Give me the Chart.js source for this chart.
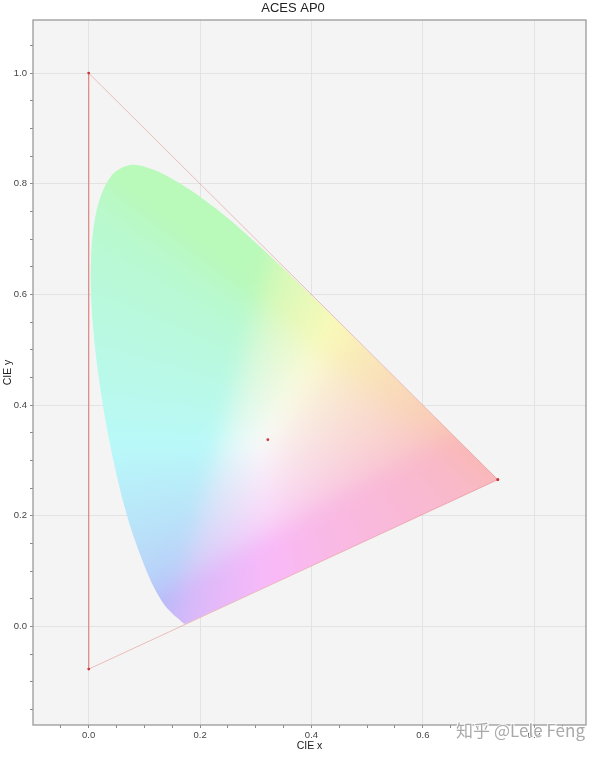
<!DOCTYPE html>
<html>
<head>
<meta charset="utf-8">
<script src="https://cdn.jsdelivr.net/npm/chart.js@4/dist/chart.umd.min.js"></script>
<style>
  html, body { margin: 0; padding: 0; background: #ffffff; }
  #wrap { width: 600px; height: 757px; }
</style>
</head>
<body>
<div id="wrap"><canvas id="cie"></canvas></div>
<script>
// spectral locus, CIE 1931 2 deg, 380..700 nm
var locusX = [0.1741, 0.1740, 0.1738, 0.1736, 0.1733, 0.1730, 0.1726, 0.1721, 0.1714, 0.1703,
  0.1689, 0.1669, 0.1644, 0.1611, 0.1566, 0.1510, 0.1440, 0.1355, 0.1241, 0.1096,
  0.0913, 0.0687, 0.0454, 0.0235, 0.0082, 0.0039, 0.0139, 0.0389, 0.0743, 0.1142,
  0.1547, 0.1929, 0.2296, 0.2658, 0.3016, 0.3373, 0.3731, 0.4087, 0.4441, 0.4788,
  0.5125, 0.5448, 0.5752, 0.6029, 0.6270, 0.6482, 0.6658, 0.6801, 0.6915, 0.7006,
  0.7079, 0.7140, 0.7190, 0.7230, 0.7260, 0.7300, 0.7320, 0.7334, 0.7347];
var locusY = [0.0050, 0.0050, 0.0049, 0.0049, 0.0048, 0.0048, 0.0048, 0.0048, 0.0051, 0.0058,
  0.0069, 0.0086, 0.0109, 0.0138, 0.0177, 0.0227, 0.0297, 0.0399, 0.0578, 0.0868,
  0.1327, 0.2007, 0.2950, 0.4127, 0.5384, 0.6548, 0.7502, 0.8120, 0.8338, 0.8262,
  0.8059, 0.7816, 0.7543, 0.7243, 0.6923, 0.6589, 0.6245, 0.5896, 0.5547, 0.5202,
  0.4866, 0.4544, 0.4242, 0.3965, 0.3725, 0.3514, 0.3340, 0.3197, 0.3083, 0.2993,
  0.2920, 0.2859, 0.2809, 0.2770, 0.2740, 0.2700, 0.2680, 0.2666, 0.2653];

// ACES AP0 primaries (R, G, B, back to R) and white point
var ap0X = [0.7347, 0.0000, 0.0001, 0.7347];
var ap0Y = [0.2653, 1.0000, -0.0770, 0.2653];
var whiteX = [0.32168];
var whiteY = [0.33767];

var xTickValues = [-0.05, 0, 0.05, 0.1, 0.15, 0.2, 0.25, 0.3, 0.35, 0.4, 0.45, 0.5, 0.55, 0.6, 0.65, 0.7, 0.75, 0.8, 0.85];
var yTickValues = [-0.15, -0.1, -0.05, 0, 0.05, 0.1, 0.15, 0.2, 0.25, 0.3, 0.35, 0.4, 0.45, 0.5, 0.55, 0.6, 0.65, 0.7, 0.75, 0.8, 0.85, 0.9, 0.95, 1.0, 1.05];
var xMajor = [0, 0.2, 0.4, 0.6, 0.8];
var yMajor = [0, 0.2, 0.4, 0.6, 0.8, 1.0];

function toPoints(xs, ys) {
  return xs.map(function (x, i) { return {x: x, y: ys[i]}; });
}

function isMajor(list, v) {
  return list.some(function (m) { return Math.abs(m - v) < 1e-6; });
}

// chromaticity -> pastel sRGB colour
function chromaColour(cx, cy) {
  var y = Math.max(cy, 1e-4);
  var X = cx / y, Y = 1, Z = (1 - cx - cy) / y;
  var rgb = [
    3.2406 * X - 1.5372 * Y - 0.4986 * Z,
    -0.9689 * X + 1.8758 * Y + 0.0415 * Z,
    0.0557 * X - 0.2040 * Y + 1.0570 * Z
  ].map(function (c) { return Math.max(c, 0); });
  var m = Math.max(rgb[0], rgb[1], rgb[2]) || 1;
  return rgb.map(function (c) {
    c = c / m;
    c = c <= 0.0031308 ? 12.92 * c : 1.055 * Math.pow(c, 1 / 2.4) - 0.055;
    return Math.round(247 + (c * 255 - 247) * 0.25);
  });
}

var fillCache = null;
function chromaFill(context) {
  var chart = context.chart;
  var area = chart.chartArea;
  if (!area) return 'rgba(0,0,0,0)';
  var key = [area.left, area.top, area.right, area.bottom].join(',');
  if (fillCache && fillCache.key === key) return fillCache.pattern;
  var w = chart.width, h = chart.height;
  var raw = document.createElement('canvas');
  raw.width = w; raw.height = h;
  var rctx = raw.getContext('2d');
  var img = rctx.createImageData(w, h);
  var sx = chart.scales.x, sy = chart.scales.y;
  for (var py = 0; py < h; py++) {
    var vy = sy.getValueForPixel(py + 0.5);
    for (var px = 0; px < w; px++) {
      var vx = sx.getValueForPixel(px + 0.5);
      var c = chromaColour(vx, vy);
      var i = (py * w + px) * 4;
      img.data[i] = c[0]; img.data[i + 1] = c[1]; img.data[i + 2] = c[2]; img.data[i + 3] = 255;
    }
  }
  rctx.putImageData(img, 0, 0);
  // soften the clipping kinks
  var off = document.createElement('canvas');
  off.width = w; off.height = h;
  var octx = off.getContext('2d');
  octx.filter = 'blur(9px)';
  octx.drawImage(raw, 0, 0);
  fillCache = {key: key, pattern: chart.ctx.createPattern(off, 'no-repeat')};
  return fillCache.pattern;
}

var plotFrame = {
  id: 'plotFrame',
  beforeDraw: function (chart) {
    var a = chart.chartArea, ctx = chart.ctx;
    ctx.save();
    ctx.fillStyle = '#f4f4f4';
    ctx.fillRect(a.left, a.top, a.right - a.left, a.bottom - a.top);
    ctx.restore();
  },
  afterDraw: function (chart) {
    var a = chart.chartArea, ctx = chart.ctx;
    ctx.save();
    ctx.strokeStyle = '#9a9a9a';
    ctx.lineWidth = 1.3;
    ctx.strokeRect(a.left, a.top, a.right - a.left, a.bottom - a.top);
    // watermark
    ctx.font = '17px "Noto Sans CJK SC", "Liberation Sans", sans-serif';
    ctx.textAlign = 'right';
    ctx.textBaseline = 'alphabetic';
    ctx.lineWidth = 2;
    ctx.strokeStyle = 'rgba(255,255,255,0.9)';
    ctx.strokeText('知乎 @Lele Feng', 585, 737);
    ctx.fillStyle = 'rgba(160,160,160,0.9)';
    ctx.fillText('知乎 @Lele Feng', 585, 737);
    ctx.restore();
  }
};

var tickFont = {family: '"Liberation Sans", Arial, sans-serif', size: 9.5};

var ctx = document.getElementById('cie').getContext('2d');
var cieChart = new Chart(ctx, {
  type: 'line',
  data: {
    datasets: [{
      label: 'AP0',
      data: toPoints(ap0X, ap0Y),
      borderColor: 'rgba(222,96,96,0.55)',
      borderWidth: 0.7,
      pointRadius: 1.4,
      pointBackgroundColor: '#c83a3a',
      pointBorderWidth: 0,
      fill: false,
      order: 0
    }, {
      label: 'white',
      data: toPoints(whiteX, whiteY),
      showLine: false,
      pointRadius: 1.4,
      pointBackgroundColor: '#c83a3a',
      pointBorderWidth: 0,
      order: 0
    }, {
      label: 'locus',
      data: toPoints(locusX, locusY),
      borderWidth: 0,
      borderColor: 'rgba(0,0,0,0)',
      pointRadius: 0,
      tension: 0.35,
      backgroundColor: chromaFill,
      fill: 'shape',
      order: 5
    }]
  },
  options: {
    responsive: true,
    maintainAspectRatio: false,
    animation: false,
    layout: {padding: {top: 0, right: 14, bottom: 0, left: 0}},
    plugins: {
      legend: {display: false},
      tooltip: {enabled: false},
      title: {
        display: true,
        text: 'ACES AP0',
        color: '#222',
        font: {family: '"Liberation Sans", Arial, sans-serif', size: 13, weight: 'normal'},
        padding: {top: 1, bottom: 3.4}
      }
    },
    scales: {
      x: {
        type: 'linear',
        min: -0.1,
        max: 0.893,
        afterBuildTicks: function (scale) {
          scale.ticks = xTickValues.map(function (v) { return {value: v}; });
        },
        afterFit: function (scale) { scale.height = 32; },
        ticks: {
          autoSkip: false,
          maxRotation: 0,
          padding: 2,
          color: '#444',
          font: tickFont,
          callback: function (v) { return isMajor(xMajor, v) ? v.toFixed(1) : ''; }
        },
        grid: {
          color: function (c) { return c.tick && isMajor(xMajor, c.tick.value) ? '#e3e3e3' : 'rgba(0,0,0,0)'; },
          tickColor: '#8a8a8a',
          tickLength: 3,
          lineWidth: 1
        },
        border: {display: false},
        title: {
          display: true,
          text: 'CIE x',
          color: '#222',
          font: {family: '"Liberation Sans", Arial, sans-serif', size: 10.5},
          padding: {top: 0, bottom: 4.7}
        }
      },
      y: {
        type: 'linear',
        min: -0.178,
        max: 1.096,
        afterBuildTicks: function (scale) {
          scale.ticks = yTickValues.map(function (v) { return {value: v}; });
        },
        afterFit: function (scale) { scale.width = 33; },
        ticks: {
          autoSkip: false,
          padding: 3,
          color: '#444',
          font: tickFont,
          callback: function (v) { return isMajor(yMajor, v) ? v.toFixed(1) : ''; }
        },
        grid: {
          color: function (c) { return c.tick && isMajor(yMajor, c.tick.value) ? '#e3e3e3' : 'rgba(0,0,0,0)'; },
          tickColor: '#8a8a8a',
          tickLength: 3,
          lineWidth: 1
        },
        border: {display: false},
        title: {
          display: true,
          text: 'CIE y',
          color: '#222',
          font: {family: '"Liberation Sans", Arial, sans-serif', size: 10.5},
          padding: {top: 1.5, bottom: 0}
        }
      }
    }
  },
  plugins: [plotFrame]
});
</script>
</body>
</html>
